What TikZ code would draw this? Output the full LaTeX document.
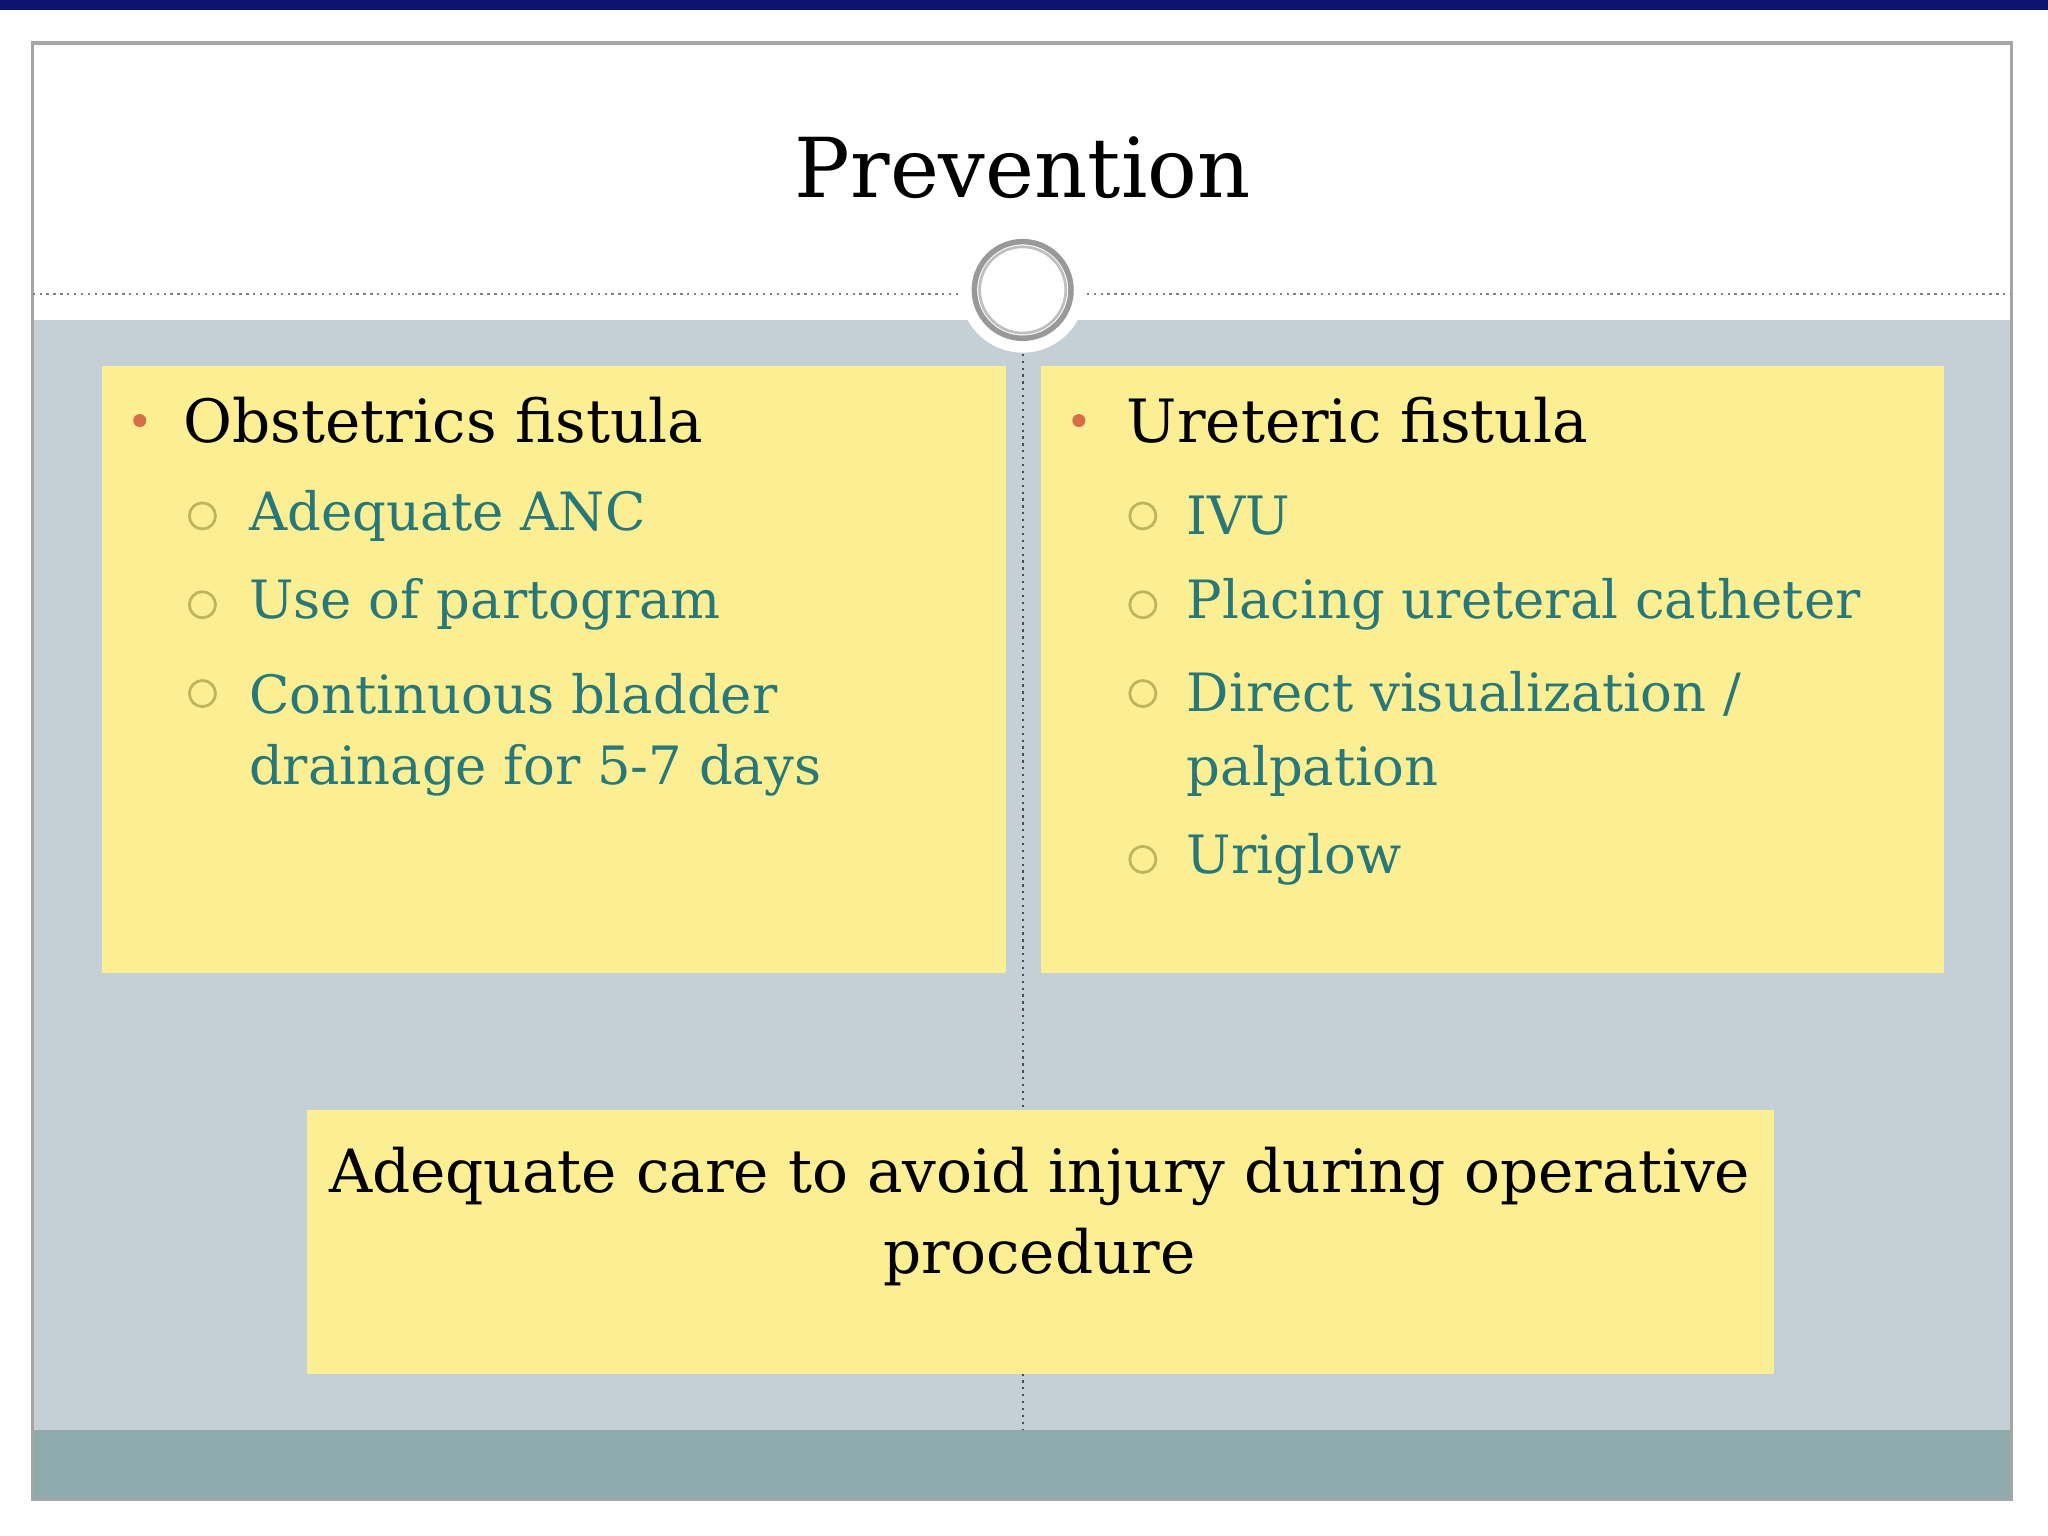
\documentclass[tikz,border=0pt]{standalone}
\usepackage{fontspec}
\setmainfont{DejaVu Serif}
\definecolor{navy}{RGB}{10,20,110}
\definecolor{panel}{RGB}{197,207,214}
\definecolor{teal2}{RGB}{143,170,172}
\definecolor{note}{RGB}{252,238,146}
\definecolor{subtxt}{RGB}{40,120,122}
\definecolor{dotc}{RGB}{214,110,70}
\definecolor{ringc}{RGB}{190,180,90}
\begin{document}
\begin{tikzpicture}[x=0.01cm,y=-0.01cm,
  main/.style={anchor=west,font=\fontsize{13}{16}\selectfont,inner sep=0},
  sub/.style={anchor=west,font=\fontsize{11.5}{17}\selectfont,text=subtxt,inner sep=0,align=left},
  bdot/.style={fill=dotc,draw=none},
  ring/.style={draw=ringc,line width=0.6pt}]
\useasboundingbox (0,0) rectangle (1568,1176);
\fill[white] (0,0) rectangle (1568,1176);
\fill[navy] (0,0) rectangle (1568,8);
\fill[panel] (25,245) rectangle (1540,1095);
\fill[teal2] (25,1095) rectangle (1540,1148);
\draw[gray!70,line width=0.8pt] (25,33) rectangle (1540,1148);
\draw[gray,densely dotted,line width=0.5pt] (25,225) -- (1540,225);
\draw[gray!60!black,densely dotted,line width=0.5pt] (783,255) -- (783,1095);
\fill[note] (78,280) rectangle (770,745);
\fill[note] (797,280) rectangle (1488,745);
\fill[note] (235,850) rectangle (1358,1052);
\coordinate (c) at (783,222);
\fill[white] (c) circle (48);
\draw[gray!80,fill=white,line width=1.2pt] (c) circle (37);
\draw[gray!50,line width=0.6pt] (c) circle (33);
\node[font=\fontsize{18}{22}\selectfont] (t) at (783,128) {Prevention};
% left
\fill[bdot] (107,322) circle (5);
\node[main] (l1) at (140,322) {Obstetrics fistula};
\foreach \y/\t in {395/{Adequate ANC},463/{Use of partogram},531/{Continuous bladder}}{
  \draw[ring] (155,\y) circle (10);
  \node[sub] at (190,\y) {\t};}
\node[sub] at (190,590) {drainage for 5-7 days};
% right
\fill[bdot] (826,322) circle (5);
\node[main] (r1) at (862,322) {Ureteric fistula};
\foreach \y/\t in {395/{IVU},463/{Placing ureteral catheter},531/{Direct visualization /},658/{Uriglow}}{
  \draw[ring] (875,\y) circle (10);
  \node[sub] at (908,\y) {\t};}
\node[sub] at (908,590) {palpation};
\node[font=\fontsize{13}{17.5}\selectfont,align=center,anchor=north] (bt) at (796,866) {Adequate care to avoid injury during operative\\procedure};
\end{tikzpicture}
\end{document}
